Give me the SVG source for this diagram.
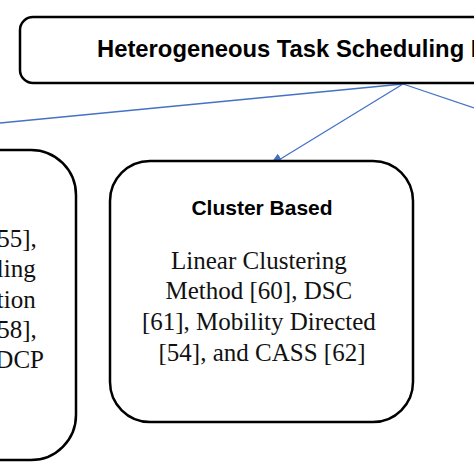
<svg xmlns="http://www.w3.org/2000/svg" width="474" height="474" viewBox="0 0 474 474">
<style>
.box{fill:#fff;stroke:#000;stroke-width:2.5}
.ttl{font-family:"Liberation Sans",Arial,sans-serif;font-weight:bold;fill:#000}
.body{font-family:"Liberation Serif","Times New Roman",serif;font-size:25px;fill:#111}
.con{stroke:#4472C4;stroke-width:1.3;fill:none}
</style>
<defs>
<marker id="ah" viewBox="0 0 14 12" refX="14" refY="6" markerWidth="14" markerHeight="12" markerUnits="userSpaceOnUse" orient="auto">
<path d="M0,0 L14,6 L0,12 Z" fill="#4472C4"/>
</marker>
</defs>
<rect width="474" height="474" fill="#fff"/>
<g id="connectors">
<line class="con" x1="403" y1="84" x2="0" y2="123"/>
<line class="con" x1="403" y1="84" x2="474" y2="108"/>
<line class="con" x1="403" y1="84" x2="269" y2="166" marker-end="url(#ah)"/>
</g>
<g id="root">
<rect class="box" x="20" y="17" width="540" height="66" rx="13"/>
<text class="ttl" x="97" y="57" font-size="23.8">Heterogeneous Task Scheduling Methods</text>
</g>
<g id="left">
<rect class="box" x="-100" y="150" width="176" height="310" rx="45"/>
<text class="body" text-anchor="end">
<tspan x="43" y="247">[55],</tspan>
<tspan x="42" y="277">ling</tspan>
<tspan x="42" y="308">rtion</tspan>
<tspan x="43" y="338">[58],</tspan>
<tspan x="44" y="368">DCP</tspan>
</text>
</g>
<g id="cluster">
<rect class="box" x="110" y="161" width="303" height="261" rx="40"/>
<text class="ttl" x="262" y="215" font-size="21" text-anchor="middle">Cluster Based</text>
<text class="body" text-anchor="middle">
<tspan x="262" y="269">Linear Clustering</tspan>
<tspan x="262" y="299">Method [60], DSC</tspan>
<tspan x="262" y="330">[61], Mobility Directed</tspan>
<tspan x="262" y="361">[54], and CASS [62]</tspan>
</text>
</g>
</svg>
